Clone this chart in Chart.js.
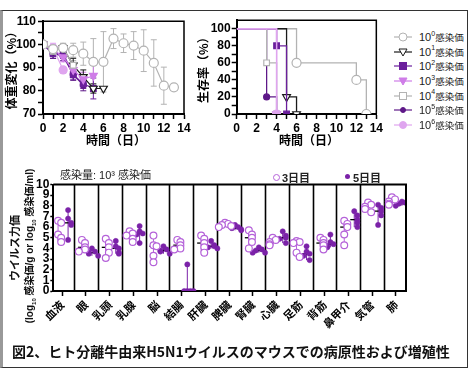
<!DOCTYPE html>
<html><head><meta charset="utf-8">
<script src="https://cdn.jsdelivr.net/npm/chart.js@4.4.1/dist/chart.umd.min.js"></script>
<style>
html,body{margin:0;padding:0;background:#fff;}
#wrap{position:relative;width:474px;height:369px;overflow:hidden;background:#fff;font-family:"Liberation Sans","Noto Sans CJK JP",sans-serif;color:#111;}
canvas{position:absolute;}
.frame{position:absolute;left:0;top:10px;width:468px;height:358px;box-sizing:border-box;border-top:1px solid #333;border-right:1px solid #333;border-bottom:1px solid #333;border-left:3px solid #999;}
.lg{position:absolute;left:394px;height:12px;display:flex;align-items:center;white-space:nowrap;font-size:11px;color:#222;z-index:2;}
.lg svg{margin-right:7px;}
.lg .sup{font-size:7px;position:relative;top:-4px;}
.lg .jp{font-size:9.5px;font-family:"Noto Sans CJK JP",sans-serif;}
.rot{position:absolute;transform:translate(-50%,-50%) rotate(-90deg);white-space:nowrap;font-weight:bold;color:#111;z-index:2;}
.txt{position:absolute;white-space:nowrap;z-index:2;}
.xt{position:absolute;transform:translate(-50%,-50%);white-space:nowrap;font-weight:bold;font-size:12px;color:#000;font-family:"Noto Sans CJK JP",sans-serif;z-index:2;}
</style>
</head><body>
<div id="wrap">
  <div class="frame"></div>
  <canvas id="c1" width="195" height="134" style="left:0;top:12px"></canvas>
  <canvas id="c2" width="190" height="134" style="left:195px;top:12px"></canvas>
  <div class="xt" style="left:116px;top:139px;">時間（日）</div>
  <div class="xt" style="left:309px;top:139px;">時間（日）</div>
  <div id="legend"></div>
  <canvas id="c3" width="420" height="185" style="left:0;top:160px"></canvas>
  <div class="rot" style="left:14px;top:248px;font-size:11px;font-family:'Noto Sans CJK JP',sans-serif;">ウイルス力価</div>
  <div class="rot" style="left:29px;top:246px;font-size:10px;">(log<sub style="font-size:6px">10</sub> 感染価/g or log<sub style="font-size:6px">10</sub> 感染価/ml)</div>
  <div class="txt" style="left:60px;top:166px;font-size:11px;color:#222;">感染量: 10³ 感染価</div>
  <div class="txt" style="left:273px;top:174px;width:5px;height:5px;border:1.3px solid #b562d9;border-radius:50%;"></div>
  <div class="txt" style="left:282px;top:169px;font-size:11px;font-weight:bold;color:#222;">3日目</div>
  <div class="txt" style="left:345px;top:174px;width:5px;height:5px;background:#7b22a8;border-radius:50%;"></div>
  <div class="txt" style="left:353px;top:169px;font-size:11px;font-weight:bold;color:#222;">5日目</div>
  <div class="txt" style="left:12px;top:341px;font-size:14px;font-weight:bold;color:#111;font-family:'Noto Sans CJK JP',sans-serif;">図2、ヒト分離牛由来H5N1ウイルスのマウスでの病原性および増殖性</div>
</div>
<script>
// ---------------- data ----------------
const days = [0,1,2,3,4,5,6,7,8,9,10,11,12,13];
const doseNames = ['0','1','2','3','4','5','6'];
// body weight change (%) per dose group, by day
const wt0 = [100,98,98.5,97.5,96,92.5,92.5,102.5,100.5,99.5,97.3,92,82.2,81.5];
const wt0Err = [0,1.5,2,3,5,10,13,4.3,4,6,9,10,8,1];
const wt1 = [100,97.5,98.5,91,86,81,81];
const wt1Err = [0,1,1.5,3,3,2,0];
const wt2 = [100,96,96,87,83,81];
const wt2Err = [0,2,2,2,2,4.5];
const wt3 = [100,98,94.5,89,85,86.5];
const wt3Err = [0,2,2,2,3,4.5];
const wt4 = [100,97,98.5,91];
const wt4Err = [0,1,1,2];
const wt5 = [100,96,95,87,82.5];
const wt5Err = [0,2,2,2.5,2.5];
const wt6 = [100,98.5,89];
const wt6Err = [0,2,1.5];
// survival (%) : event days and values
const sv0Days = [0,6,12,13], sv0 = [100,60,40,0];
const sv1Days = [0,5,6],     sv1 = [100,20,0];
const sv2Days = [0,4,5],     sv2 = [100,80,0];
const sv3Days = [0,4],       sv3 = [100,0];
const sv4Days = [0,3,4],     sv4 = [100,60,0];
const sv5Days = [0,3,4],     sv5 = [100,20,0];
const sv6Days = [0,4],       sv6 = [100,0];
// virus titres
const tissues = ['血液','眼','乳頭','乳腺','脳','結腸','肝臓','脾臓','腎臓','心臓','足筋','背筋','鼻甲介','気管','肺'];
const day3 = [
  [6.6,6.4,5.3,5.0,4.6],[4.8,4.5,4.1,3.9,3.7],[4.9,4.5,4.1,3.6,3.1],[5.6,5.4,5.2,4.9,4.6],
  [5.2,4.3,4.2,3.3,2.7],[4.8,4.6,4.3,4.0,3.9],[5.2,4.9,4.5,4.1,3.6],[6.4,6.3,6.2,6.1,6.0],
  [5.7,5.3,5.0,4.6,4.0],[5.0,4.8,4.6,4.4,4.3],[4.7,4.6,4.5,3.6,3.2],[5.0,4.8,4.5,4.3,3.9],
  [6.6,6.3,6.0,5.3,4.3],[8.3,8.1,7.9,7.7,7.4],[8.8,8.6,8.4,8.2,8.1]
];
const day5 = [
  [7.6,6.8,6.4,6.2,4.8],[4.0,3.7,3.6,3.5,3.3],[4.7,4.2,4.0,3.6,3.5],[6.1,5.6,5.4,5.3,4.5],
  [4.2,3.9,3.8,3.7,3.5],[2.5,0,0,0,0],[4.7,4.3,4.2,4.1,4.0],[6.2,6.0,5.9,5.8,5.7],
  [4.1,3.9,3.8,3.6,3.6],[5.6,5.2,5.0,4.9,4.5],[4.2,3.7,3.5,3.3,2.9],[5.3,4.6,4.4,4.2,4.1],
  [7.5,7.1,6.7,6.4,6.0],[8.1,7.8,7.5,7.1,6.2],[8.4,8.3,8.2,8.1,8.0]
];

// ---------------- styles ----------------
const FONT = '"Liberation Sans","Noto Sans CJK JP",sans-serif';
Chart.defaults.font.family = FONT;
Chart.defaults.color = '#000';
const styles = [
  {c:'#b3b3b3', st:'circle',   rot:0,   r:4.5, fill:false},
  {c:'#1a1a1a', st:'triangle', rot:180, r:4.5, fill:false},
  {c:'#6b1f9c', st:'rect',     rot:0,   r:4,   fill:true},
  {c:'#cf7de8', st:'triangle', rot:180, r:4.5, fill:true},
  {c:'#b3b3b3', st:'rect',     rot:0,   r:4,   fill:false},
  {c:'#5e1888', st:'circle',   rot:0,   r:3,   fill:true},
  {c:'#dfa5ef', st:'circle',   rot:0,   r:4,   fill:true}
];
const C3 = '#b562d9', C5 = '#7b22a8';

const range = (a,b,s) => { const r=[]; for(let v=a; v<=b+1e-9; v+=s) r.push(+v.toFixed(3)); return r; };

const errPlugin = {
  id:'err',
  beforeDatasetsDraw(chart){
    const ctx=chart.ctx, xs=chart.scales.x, ys=chart.scales.y;
    chart.data.datasets.forEach(ds=>{
      if(!ds.err) return;
      ctx.save(); ctx.strokeStyle=ds.borderColor; ctx.lineWidth=1;
      ds.data.forEach((p,j)=>{
        const e=ds.err[j]; if(!e) return;
        const x=xs.getPixelForValue(p.x), y1=ys.getPixelForValue(p.y-e), y2=ys.getPixelForValue(p.y+e);
        ctx.beginPath(); ctx.moveTo(x,y1); ctx.lineTo(x,y2);
        ctx.moveTo(x-3,y1); ctx.lineTo(x+3,y1); ctx.moveTo(x-3,y2); ctx.lineTo(x+3,y2); ctx.stroke();
      });
      ctx.restore();
    });
  }
};
const framePlugin = {
  id:'frame',
  afterDraw(chart){
    const a=chart.chartArea, ctx=chart.ctx;
    ctx.save(); ctx.strokeStyle='#000'; ctx.lineWidth=1.5;
    ctx.beginPath(); ctx.moveTo(a.left,a.top); ctx.lineTo(a.right,a.top); ctx.lineTo(a.right,a.bottom); ctx.stroke();
    ctx.restore();
  }
};
const tickFont = {size:12, weight:'bold'};
const titleFont = {size:12, weight:'bold', family:'"Noto Sans CJK JP",sans-serif'};

function xDays(h){
  return {type:'linear', min:0, max:14,
    afterBuildTicks:sc=>{sc.ticks=range(0,14,1).map(v=>({value:v}));},
    afterFit:sc=>{sc.height=h;},
    ticks:{autoSkip:false, maxRotation:0, padding:2, font:tickFont, color:'#000', callback:v=>v%2===0?String(v):''},
    grid:{drawOnChartArea:false, color:'#000', tickLength:5, tickWidth:1.5},
    border:{color:'#000', width:2}};
}

// ---------------- chart 1: weight ----------------
const wtVals = [wt0,wt1,wt2,wt3,wt4,wt5,wt6];
const wtErrs = [wt0Err,wt1Err,wt2Err,wt3Err,wt4Err,wt5Err,wt6Err];
const wtOrder = [0,4,6,3,1,2,5];
new Chart(document.getElementById('c1'), {
  type:'line',
  data:{datasets: wtOrder.map(k=>{ const s=styles[k]; return {
    data: wtVals[k].map((v,i)=>({x:days[i], y:v})), err: wtErrs[k],
    borderColor:s.c, pointBorderColor:s.c, pointBackgroundColor:s.fill?s.c:'#fff',
    pointStyle:s.st, pointRotation:s.rot, pointRadius:s.r, pointBorderWidth:1.2, borderWidth:1.2, tension:0 };})},
  options:{responsive:false, animation:false, events:[],
    layout:{padding:{left:0, top:7.5, right:11, bottom:0}},
    plugins:{legend:{display:false}, tooltip:{enabled:false}},
    scales:{
      x: xDays(32),
      y:{min:70, max:110,
        afterBuildTicks:sc=>{sc.ticks=range(70,110,5).map(v=>({value:v}));},
        afterFit:sc=>{sc.width=43;},
        ticks:{autoSkip:false, padding:2, font:tickFont, color:'#000', callback:v=>v%10===0?String(v):''},
        grid:{drawOnChartArea:false, color:'#000', tickLength:5, tickWidth:1.5},
        border:{color:'#000', width:2},
        title:{display:true, text:'体重変化（%）', font:titleFont, color:'#000', padding:4}}
    }},
  plugins:[errPlugin, framePlugin]
});

// ---------------- chart 2: survival ----------------
const svDays = [sv0Days,sv1Days,sv2Days,sv3Days,sv4Days,sv5Days,sv6Days];
const svVals = [sv0,sv1,sv2,sv3,sv4,sv5,sv6];
const svOrder = [6,3,4,2,5,1,0];
new Chart(document.getElementById('c2'), {
  type:'line',
  data:{datasets: svOrder.map(k=>{ const s=styles[k]; return {
    data: svVals[k].map((v,i)=>({x:svDays[k][i], y:v})),
    stepped:true,
    borderColor:s.c, pointBorderColor:s.c, pointBackgroundColor:s.fill?s.c:'#fff',
    pointStyle:s.st, pointRotation:s.rot, pointRadius:svVals[k].map((v,i)=>i===0?0:s.r),
    pointBorderWidth:1.2, borderWidth:1.3 };})},
  options:{responsive:false, animation:false, events:[],
    layout:{padding:{left:0, top:8, right:7.3, bottom:0}},
    plugins:{legend:{display:false}, tooltip:{enabled:false}},
    scales:{
      x: xDays(32),
      y:{min:0, max:110,
        afterBuildTicks:sc=>{sc.ticks=range(0,100,10).map(v=>({value:v}));},
        afterFit:sc=>{sc.width=41.7;},
        ticks:{autoSkip:false, padding:1, font:tickFont, color:'#000', callback:v=>v%20===0?String(v):''},
        grid:{drawOnChartArea:false, color:'#000', tickLength:5, tickWidth:1.5},
        border:{color:'#000', width:2},
        title:{display:true, text:'生存率（%）', font:titleFont, color:'#000', padding:1}}
    }},
  plugins:[framePlugin]
});

// legend (HTML)
(function(){
  const L = document.getElementById('legend');
  const tops = [25,39.6,54.3,69,83.7,98.4,113];
  const shape = (s)=>{
    const f = s.fill? s.c : '#fff';
    if(s.st==='circle') return `<circle cx="9" cy="5" r="${s.r-0.5}" fill="${f}" stroke="${s.c}" stroke-width="1"/>`;
    if(s.st==='rect') return `<rect x="${9-s.r+0.5}" y="${5-s.r+0.5}" width="${2*s.r-1}" height="${2*s.r-1}" fill="${f}" stroke="${s.c}" stroke-width="1"/>`;
    return `<polygon points="5,2 13,2 9,9" fill="${f}" stroke="${s.c}" stroke-width="1"/>`;
  };
  doseNames.forEach((d,i)=>{
    const s = styles[i];
    const el = document.createElement('div');
    el.className='lg'; el.style.top=(tops[i]+12-6)+'px';
    el.innerHTML = `<svg width="18" height="10"><line x1="0" y1="5" x2="18" y2="5" stroke="${s.c}" stroke-width="1.2"/>${shape(s)}</svg><span>10</span><span class="sup">${d}</span><span class="jp">感染価</span>`;
    L.appendChild(el);
  });
})();

// ---------------- chart 3: titres ----------------
function median(a){ const s=[...a].sort((x,y)=>x-y); const n=s.length; return n%2?s[(n-1)/2]:(s[n/2-1]+s[n/2])/2; }
function swarm(vals, center){
  const placed=[]; const offs=[0,0.13,-0.13,0.26,-0.26];
  return vals.map(v=>{
    const n = placed.filter(p=>Math.abs(p-v)<0.5).length;
    placed.push(v);
    return {x:center+offs[Math.min(n,4)], y:v};
  });
}
const OFF3=-0.17, OFF5=0.25;
const pts3=[], pts5=[];
tissues.forEach((t,i)=>{ pts3.push(...swarm(day3[i], i+OFF3)); pts5.push(...swarm(day5[i], i+OFF5)); });

const decorPlugin = {
  id:'decor',
  beforeDatasetsDraw(chart){
    const ctx=chart.ctx, xs=chart.scales.x, ys=chart.scales.y, a=chart.chartArea;
    ctx.save();
    ctx.strokeStyle='#000'; ctx.lineWidth=1.6;
    for(let k=0;k<tissues.length-1;k++){
      const x=Math.round(xs.getPixelForValue(k+0.5))+0.5;
      ctx.beginPath(); ctx.moveTo(x,a.top); ctx.lineTo(x,a.bottom); ctx.stroke();
    }
    [[day3,OFF3,C3],[day5,OFF5,C5]].forEach(([arr,off,col])=>{
      arr.forEach((vals,i)=>{
        const x=xs.getPixelForValue(i+off);
        ctx.strokeStyle=col; ctx.lineWidth=1;
        ctx.beginPath(); ctx.moveTo(x,ys.getPixelForValue(Math.min(...vals))); ctx.lineTo(x,ys.getPixelForValue(Math.max(...vals))); ctx.stroke();
        const m=ys.getPixelForValue(median(vals));
        ctx.strokeStyle='#000'; ctx.lineWidth=1.3;
        ctx.beginPath(); ctx.moveTo(x-4,m); ctx.lineTo(x+4,m); ctx.stroke();
      });
    });
    ctx.restore();
  },
  afterDraw(chart){
    const a=chart.chartArea, ctx=chart.ctx;
    ctx.save(); ctx.strokeStyle='#000'; ctx.lineWidth=2;
    ctx.beginPath(); ctx.moveTo(a.left,a.top); ctx.lineTo(a.right,a.top); ctx.lineTo(a.right,a.bottom); ctx.stroke();
    ctx.restore();
  }
};

new Chart(document.getElementById('c3'), {
  type:'scatter',
  data:{datasets:[
    {data:pts3, pointStyle:'circle', pointRadius:3.4, pointBorderWidth:1.2, pointBorderColor:C3, pointBackgroundColor:'#fff'},
    {data:pts5, pointStyle:'circle', pointRadius:2.6, pointBorderWidth:0.5, pointBorderColor:C5, pointBackgroundColor:C5}
  ]},
  options:{responsive:false, animation:false, events:[],
    layout:{padding:{left:0, top:24.5, right:14, bottom:0}},
    plugins:{legend:{display:false}, tooltip:{enabled:false}},
    scales:{
      x:{type:'linear', min:-0.37, max:14.42,
        afterBuildTicks:sc=>{sc.ticks=tissues.map((t,i)=>({value:i}));},
        afterFit:sc=>{sc.height=54;},
        ticks:{autoSkip:false, minRotation:45, maxRotation:45, padding:2, font:{size:11, weight:'bold', family:'"Noto Sans CJK JP",sans-serif'}, color:'#000', callback:v=>tissues[v]},
        grid:{drawOnChartArea:false, color:'#000', tickLength:5, tickWidth:1.5},
        border:{color:'#000', width:2}},
      y:{min:0, max:10,
        afterBuildTicks:sc=>{sc.ticks=range(0,10,1).map(v=>({value:v}));},
        afterFit:sc=>{sc.width=53.3;},
        ticks:{autoSkip:false, padding:1, font:tickFont, color:'#000'},
        grid:{drawOnChartArea:false, color:'#000', tickLength:3, tickWidth:1.5},
        border:{color:'#000', width:2}}
    }},
  plugins:[decorPlugin]
});
</script>
</body></html>
